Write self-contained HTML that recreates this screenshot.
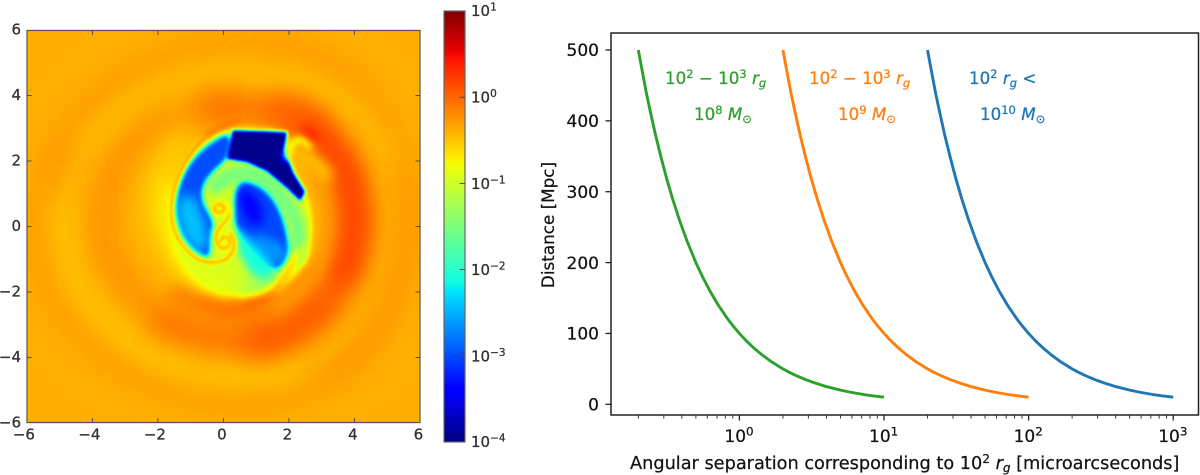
<!DOCTYPE html>
<html>
<head>
<meta charset="utf-8">
<title>Density map and angular separation chart</title>
<style>
html,body{margin:0;padding:0;background:#fff;}
#page{position:relative;width:1200px;height:475px;overflow:hidden;background:#fff;font-family:"DejaVu Sans","Liberation Sans",sans-serif;}
canvas{position:absolute;display:block;}
#density-canvas{left:27px;top:30px;filter:blur(.5px);}
#colorbar-canvas{left:444px;top:11px;}
#overlay{position:absolute;left:0;top:0;filter:blur(.35px);}
text{font-family:"DejaVu Sans","Liberation Sans",sans-serif;stroke:#222;stroke-width:.25px;}
.c-green text{stroke:#2ca02c;}
.c-orange text{stroke:#ff7f0e;}
.c-blue text{stroke:#1f77b4;}
.it{font-style:italic;}
</style>
</head>
<body>
<div id="page">
<canvas id="density-canvas" width="393" height="393"></canvas>
<canvas id="colorbar-canvas" width="21" height="431"></canvas>
<svg id="overlay" width="1200" height="475" viewBox="0 0 1200 475">
  <g id="left-axes"></g>
  <g id="cbar-axes"></g>
  <g id="right-axes"></g>
  <g id="series"></g>

  <text transform="translate(554,225) rotate(-90)" text-anchor="middle" font-size="16.8" fill="#111">Distance [Mpc]</text>
  <text x="630" y="469" font-size="17.72" fill="#111">Angular separation corresponding to 10<tspan dy="-6" font-size="12">2</tspan><tspan dy="6"> </tspan><tspan class="it">r</tspan><tspan class="it" dy="3" font-size="12">g</tspan><tspan dy="-3"> [microarcseconds]</tspan></text>

  <g class="c-green" font-size="16.7" fill="#2ca02c">
    <text x="665" y="84">10<tspan dy="-6" font-size="11.5">2</tspan><tspan dy="6"> − 10</tspan><tspan dy="-6" font-size="11.5">3</tspan><tspan dy="6"> </tspan><tspan class="it">r</tspan><tspan class="it" dy="3" font-size="11.5">g</tspan></text>
    <text x="694" y="120">10<tspan dy="-6" font-size="11.5">8</tspan><tspan dy="6"> </tspan><tspan class="it">M</tspan><tspan dy="3" font-size="11.5">⊙</tspan></text>
  </g>
  <g class="c-orange" font-size="16.7" fill="#ff7f0e">
    <text x="809" y="84">10<tspan dy="-6" font-size="11.5">2</tspan><tspan dy="6"> − 10</tspan><tspan dy="-6" font-size="11.5">3</tspan><tspan dy="6"> </tspan><tspan class="it">r</tspan><tspan class="it" dy="3" font-size="11.5">g</tspan></text>
    <text x="838" y="120">10<tspan dy="-6" font-size="11.5">9</tspan><tspan dy="6"> </tspan><tspan class="it">M</tspan><tspan dy="3" font-size="11.5">⊙</tspan></text>
  </g>
  <g class="c-blue" font-size="16.7" fill="#1f77b4">
    <text x="969" y="84">10<tspan dy="-6" font-size="11.5">2</tspan><tspan dy="6"> </tspan><tspan class="it">r</tspan><tspan class="it" dy="3" font-size="11.5">g</tspan><tspan dy="-3"> &lt;</tspan></text>
    <text x="980" y="120">10<tspan dy="-6" font-size="11.5">10</tspan><tspan dy="6"> </tspan><tspan class="it">M</tspan><tspan dy="3" font-size="11.5">⊙</tspan></text>
  </g>
</svg>
</div>
<script>
// ---------- line chart data ----------
const distances = [500,470,440,410,380,350,320,290,260,230,200,180,160,140,120,110,100,90,80,70,60,50,45,40,35,30,25,20,17,14,12,10];
const angle1e8 = [0.2,0.213,0.227,0.244,0.263,0.286,0.3125,0.345,0.385,0.435,0.5,0.556,0.625,0.714,0.833,0.909,1,1.111,1.25,1.429,1.667,2,2.222,2.5,2.857,3.333,4,5,5.882,7.143,8.333,10];
const angle1e9 = [2,2.13,2.27,2.44,2.63,2.86,3.125,3.45,3.85,4.35,5,5.56,6.25,7.14,8.33,9.09,10,11.11,12.5,14.29,16.67,20,22.22,25,28.57,33.33,40,50,58.82,71.43,83.33,100];
const angle1e10 = [20,21.3,22.7,24.4,26.3,28.6,31.25,34.5,38.5,43.5,50,55.6,62.5,71.4,83.3,90.9,100,111.1,125,142.9,166.7,200,222.2,250,285.7,333.3,400,500,588.2,714.3,833.3,1000];
const distanceTicks = [0,100,200,300,400,500];
const angleDecades = [0,1,2,3];
const angleMinor = [0.2,0.3,0.4,0.5,0.6,0.7,0.8,0.9,2,3,4,5,6,7,8,9,20,30,40,50,60,70,80,90,200,300,400,500,600,700,800,900];
// ---------- density map axis data ----------
const mapTicks = [-6,-4,-2,0,2,4,6];
const colorbarExponents = [1,0,-1,-2,-3,-4];
// ---------- density field: log10 density regions, coordinates in 1/3 px of the figure ----------
const fieldLayers = [
 {n:'outer-ring',v:-0.24,w:70,b:14,c:1,p:[[110,660],[170,430],[330,250],[560,150],[800,130],[1020,200],[1180,380],[1235,620],[1200,860],[1090,1070],[900,1180],[680,1210],[420,1140],[220,990],[125,820]]},
 {n:'light-ring-lower',v:-0.5,w:75,b:14,p:[[190,620],[200,800],[280,930],[390,1030],[540,1110],[700,1130],[880,1110]]},
 {n:'light-ring-top',v:-0.46,w:60,b:14,p:[[260,430],[430,260],[680,205],[900,240],[1080,340],[1170,480]]},
 {n:'main-band-fade',v:-0.2,w:75,b:14,p:[[660,322],[480,360],[360,470],[300,620],[310,760],[390,880],[500,960]]},
 {n:'main-band-lower',v:-0.06,w:100,b:13,p:[[960,900],[860,990],[730,1025],[590,1000],[500,965]]},
 {n:'main-band-upper',v:-0.03,w:90,b:13,p:[[640,325],[780,325],[930,372]]},
 {n:'main-band',v:0.05,w:110,b:13,p:[[860,345],[940,378],[1030,480],[1060,620],[1050,760],[990,890],[880,985],[780,1020]]},
 {n:'main-band-hot',v:0.18,w:75,b:10,p:[[930,395],[1020,480],[1062,600],[1062,720],[1030,820]]},
 {n:'inner-orange-band',v:0.0,w:58,b:8,p:[[540,875],[640,925],[740,930],[830,885],[900,800]]},
 {n:'orange-strip',v:-0.28,w:42,b:7,p:[[950,540],[975,640],[970,750],[920,850],[830,925]]},
 {n:'yellow-halo',v:-0.58,w:72,b:13,p:[[540,430],[480,530],[470,640],[510,750],[590,840]]},
 {n:'yellow-halo-bright',v:-0.85,w:30,b:8,p:[[505,560],[490,650],[530,740],[600,810]]},
 {n:'cavity',v:-0.92,b:3,c:1,f:1,p:[[700,385],[860,392],[862,450],[882,520],[925,590],[938,680],[920,780],[870,840],[800,880],[700,895],[620,870],[570,820],[540,760],[520,680],[515,600],[540,510],[590,440],[640,405]]},
 {n:'yellow-lower',v:-0.86,w:50,b:7,p:[[545,740],[590,825],[670,862]]},
 {n:'green-arm',v:-1.55,w:48,b:4,p:[[645,560],[700,510],[790,530],[862,610],[898,690],[888,770]]},
 {n:'green-lower',v:-1.45,w:30,b:7,p:[[870,790],[810,855],[745,862]]},
 {n:'left-lobe',v:-3.0,b:2,c:1,f:1,p:[[695,392],[625,430],[565,490],[530,570],[525,640],[546,712],[590,760],[628,778],[632,730],[642,690],[635,650],[607,610],[606,560],[640,512],[685,478]]},
 {n:'left-lobe-lower',v:-2.4,b:6,c:1,f:1,p:[[535,590],[530,640],[550,710],[590,755],[618,765],[622,700],[600,630],[575,580]]},
 {n:'navy-void',v:-3.95,b:1.5,c:1,f:1,s:1,p:[[697,392],[860,397],[853,450],[880,520],[915,575],[900,605],[860,565],[800,515],[740,488],[680,478]]},
 {n:'right-lobe',v:-3.02,b:2,c:1,f:1,p:[[706,540],[775,552],[830,608],[860,690],[868,765],[830,818],[770,785],[718,712],[698,660]]},
 {n:'right-lobe-deep',v:-3.38,b:5,c:1,f:1,p:[[712,560],[760,575],[795,640],[775,690],[725,650]]},
 {n:'right-lobe-mid',v:-2.65,b:4,c:1,f:1,p:[[735,690],[855,730],[864,790],[805,800]]},
 {n:'right-lobe-cyan',v:-2.1,b:4,c:1,f:1,p:[[698,668],[830,805],[812,840],[762,838],[722,775],[702,722]]},
 {n:'vortex-lower-halo',v:-0.85,b:3,c:1,f:1,p:[[640,680],[690,685],[712,725],[700,770],[655,765],[635,725]]},
 {n:'vortex-upper-halo',v:-0.75,b:2,c:1,f:1,p:[[628,620],[655,600],[690,615],[700,640],[660,655],[635,645]]},
 {n:'vortex-upper-ring',v:-0.3,w:6,b:1,c:1,p:[[635,625],[655,608],[678,625],[655,645]]},
 {n:'vortex-lower-ring',v:-0.3,w:7,b:1,p:[[690,645],[670,672],[648,695],[645,730],[670,752],[695,730],[672,705],[660,725]]},
 {n:'filament-outer',v:-0.2,w:8,b:1.5,p:[[700,372],[630,400],[570,460],[525,550],[510,640],[530,720],[585,780],[640,792],[685,778],[708,735],[690,700]]},
 {n:'filament-top-red',v:0.08,w:7,b:2,p:[[615,405],[660,378],[715,362]]},
 {n:'notch-hook',v:-0.9,w:22,b:3,p:[[862,470],[870,432],[905,415],[925,440]]},
 {n:'notch-streak',v:-0.55,w:34,b:6,p:[[895,460],[940,480],[978,525]]},
 {n:'notch-edge',v:-0.42,w:12,b:2.5,p:[[880,470],[898,525],[945,595],[955,680],[945,750]]},
 {n:'yellow-strip',v:-0.7,w:14,b:3,p:[[908,740],[878,805],[830,870]]},
 {n:'front-edge-bright',v:-0.8,w:5,b:1,p:[[720,890],[800,872],[850,825]]},
 {n:'front-red-line',v:0.22,w:9,b:3.5,p:[[745,912],[800,893],[850,840],[885,760]]},
 {n:'hot-spot',v:0.42,w:22,b:5,p:[[915,390],[945,412]]}
];

// ---------- shared helpers ----------
const NS='http://www.w3.org/2000/svg';
function svgEl(parent,tag,attrs){
  const e=document.createElementNS(NS,tag);
  for(const k in attrs){e.setAttribute(k,attrs[k]);}
  parent.appendChild(e);
  return e;
}
function pow10Label(parent,x,y,exp,size,anchor,fill){
  const t=svgEl(parent,'text',{x:x,y:y,'font-size':size,'text-anchor':anchor,fill:fill});
  t.appendChild(document.createTextNode('10'));
  const s=svgEl(t,'tspan',{dy:-size*0.37,'font-size':size*0.7});
  s.textContent=String(exp).replace('-','−');
  return t;
}
function jet(t){
  const c=(x)=>Math.max(0,Math.min(1,x));
  let r,g,b;
  r=t<0.35?0:t<0.66?(t-0.35)/0.31:t<0.89?1:1-(t-0.89)/0.11*0.5;
  g=t<0.125?0:t<0.375?(t-0.125)/0.25:t<0.64?1:t<0.91?1-(t-0.64)/0.27:0;
  b=t<0.11?0.5+t/0.11*0.5:t<0.34?1:t<0.65?1-(t-0.34)/0.31:0;
  return [c(r)*255,c(g)*255,c(b)*255];
}

// ---------- density map ----------
(function(){
  const cv=document.getElementById('density-canvas');
  const ctx=cv.getContext('2d',{willReadFrequently:true});
  const gray=(v)=>{const g=Math.round((v+4)/5*255);return 'rgb('+g+','+g+','+g+')';};
  ctx.fillStyle=gray(-0.37);
  ctx.fillRect(0,0,393,393);
  ctx.setTransform(1/3,0,0,1/3,-80/3,-91/3);
  fieldLayers.forEach(function(l){
    ctx.filter=l.b?'blur('+l.b+'px)':'none';
    ctx.beginPath();
    const p=l.p;
    if(l.s||p.length<3){
      ctx.moveTo(p[0][0],p[0][1]);
      for(let i=1;i<p.length;i++){ctx.lineTo(p[i][0],p[i][1]);}
    }else if(l.c){
      const n=p.length;
      ctx.moveTo((p[n-1][0]+p[0][0])/2,(p[n-1][1]+p[0][1])/2);
      for(let i=0;i<n;i++){
        const q=p[(i+1)%n];
        ctx.quadraticCurveTo(p[i][0],p[i][1],(p[i][0]+q[0])/2,(p[i][1]+q[1])/2);
      }
    }else{
      ctx.moveTo(p[0][0],p[0][1]);
      for(let i=1;i<p.length-1;i++){
        ctx.quadraticCurveTo(p[i][0],p[i][1],(p[i][0]+p[i+1][0])/2,(p[i][1]+p[i+1][1])/2);
      }
      ctx.lineTo(p[p.length-1][0],p[p.length-1][1]);
    }
    if(l.c){ctx.closePath();}
    if(l.f){
      ctx.fillStyle=gray(l.v);
      ctx.fill();
    }else{
      ctx.strokeStyle=gray(l.v);
      ctx.lineWidth=l.w;
      ctx.lineCap='round';
      ctx.lineJoin='round';
      ctx.stroke();
    }
  });
  ctx.filter='none';
  ctx.setTransform(1,0,0,1,0,0);
  const img=ctx.getImageData(0,0,393,393);
  const d=img.data;
  for(let i=0;i<d.length;i+=4){
    const c=jet(d[i]/255);
    d[i]=c[0];d[i+1]=c[1];d[i+2]=c[2];d[i+3]=255;
  }
  ctx.putImageData(img,0,0);
})();

// ---------- colorbar ----------
(function(){
  const cv=document.getElementById('colorbar-canvas');
  const ctx=cv.getContext('2d');
  for(let y=0;y<431;y++){
    const c=jet(1-y/430);
    ctx.fillStyle='rgb('+Math.round(c[0])+','+Math.round(c[1])+','+Math.round(c[2])+')';
    ctx.fillRect(0,y,21,1);
  }
})();

// ---------- density map axes ----------
const mapX=(v)=>223.4+v*32.75;
const mapY=(v)=>226.5-v*32.75;
const leftAxes=document.getElementById('left-axes');
const mapFrame=svgEl(leftAxes,'rect',{x:27,y:30.5,width:393,height:392,fill:'none',stroke:'#555',"stroke-width":1.2});


mapTicks.forEach(function(v){
  const lx=svgEl(leftAxes,'text',{x:mapX(v)-(v===0?1.5:v>0?1.5:3),y:439.5,'font-size':15,'text-anchor':'middle',fill:'#333'});
  lx.textContent=String(v).replace('-','−');
  
  
  const ly=svgEl(leftAxes,'text',{x:21,y:mapY(v)+4.5,'font-size':15,'text-anchor':'end',fill:'#333'});
  ly.textContent=String(v).replace('-','−');
  
  
  if(Math.abs(v)<6){
    const tb=svgEl(leftAxes,'line',{x1:mapX(v),x2:mapX(v),y1:422.5,y2:418,stroke:'#444','stroke-width':0.9});
    
    
    const tt=svgEl(leftAxes,'line',{x1:mapX(v),x2:mapX(v),y1:30.5,y2:35,stroke:'#444','stroke-width':0.9});
    
    
    const tl=svgEl(leftAxes,'line',{x1:27,x2:31.5,y1:mapY(v),y2:mapY(v),stroke:'#444','stroke-width':0.9});
    
    
    const tr=svgEl(leftAxes,'line',{x1:420,x2:415.5,y1:mapY(v),y2:mapY(v),stroke:'#444','stroke-width':0.9});
    
    
  }
});

// ---------- colorbar axis ----------
const cbarY=(e)=>442-(e+4)*86.2;
const cbarAxes=document.getElementById('cbar-axes');
const cbarFrame=svgEl(cbarAxes,'rect',{x:444,y:11,width:21,height:431,fill:'none',stroke:'#666','stroke-width':1.2});


colorbarExponents.forEach(function(e){
  const lab=pow10Label(cbarAxes,471,cbarY(e)+ (e===1?5:e===-4?5:5.5),e,15,'start','#333');
  
  
  if(e<1&&e>-4){
    const tk=svgEl(cbarAxes,'line',{x1:465,x2:459.5,y1:cbarY(e),y2:cbarY(e),stroke:'#444','stroke-width':0.9});
    
    
  }
});

// ---------- distance chart axes ----------
const distX=(a)=>739.4+Math.log10(a)*144.6;
const distY=(d)=>404.3-d*0.7086;
const rightAxes=document.getElementById('right-axes');
const distFrame=svgEl(rightAxes,'rect',{x:611,y:33,width:587.5,height:382,fill:'none',stroke:'#222','stroke-width':1.5});


distanceTicks.forEach(function(d){
  const tk=svgEl(rightAxes,'line',{x1:605.5,x2:611,y1:distY(d),y2:distY(d),stroke:'#222','stroke-width':1.3});
  
  
  const lb=svgEl(rightAxes,'text',{x:599,y:distY(d)+6.2,'font-size':17,'text-anchor':'end',fill:'#111'});
  lb.textContent=d;
  
  
});
angleDecades.forEach(function(e){
  const x=distX(Math.pow(10,e));
  const tk=svgEl(rightAxes,'line',{x1:x,x2:x,y1:415,y2:420.5,stroke:'#222','stroke-width':1.3});
  
  
  const lb=pow10Label(rightAxes,x-15,442,e,17,'start','#111');
  
  
});
angleMinor.forEach(function(a){
  const x=distX(a);
  const tk=svgEl(rightAxes,'line',{x1:x,x2:x,y1:415,y2:418.5,stroke:'#333','stroke-width':1});
  
  
});

// ---------- distance chart series ----------
const seriesGroup=document.getElementById('series');
function drawSeries(values,color,name){
  const pts=values.map(function(a,i){return distX(a).toFixed(2)+','+distY(distances[i]).toFixed(2);}).join(' ');
  const line=svgEl(seriesGroup,'polyline',{points:pts,fill:'none',stroke:color,'stroke-width':2.9,'stroke-linejoin':'round'});
  
  
}
drawSeries(angle1e10,'#1f77b4','line-1e10-solar-mass');
drawSeries(angle1e9,'#ff7f0e','line-1e9-solar-mass');
drawSeries(angle1e8,'#2ca02c','line-1e8-solar-mass');
</script>
</body>
</html>
